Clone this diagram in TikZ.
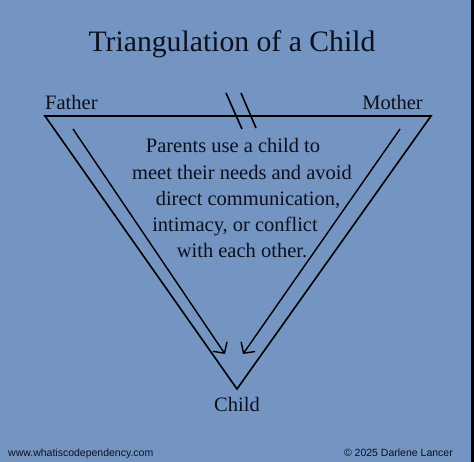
\documentclass[tikz,border=0pt]{standalone}
\usepackage{fontspec}
\setmainfont{Liberation Serif}
\newfontfamily\footfont{Liberation Sans}
\usetikzlibrary{arrows.meta}
\definecolor{bgblue}{RGB}{116,148,194}
\definecolor{inkdark}{RGB}{12,16,30}
\tikzset{
  edge/.style={draw=black, line width=1.6pt},
  flow/.style={draw=black, line width=1.4pt, -{Straight Barb[length=8pt,width=17pt,line width=1.4pt]}},
  lbl/.style={font=\fontsize{20.5}{24}\selectfont, text=inkdark, inner sep=0pt},
  foot/.style={font=\footfont\fontsize{10.5}{12}\selectfont, text=inkdark, inner sep=0pt}
}
\begin{document}
\begin{tikzpicture}[x=1pt,y=-1pt]
\fill[bgblue] (0,0) rectangle (474,462);
\fill[black] (471,0) rectangle (474,462);
\useasboundingbox (0,0) rectangle (474,462);
% title
\node[font=\fontsize{29.7}{34}\selectfont, text=inkdark, inner sep=0pt, anchor=base] (title) at (232,52) {Triangulation of a Child};
% triangle corners
\coordinate (F) at (45,116);
\coordinate (M) at (431,116);
\coordinate (C) at (237,389);
\draw[edge, line join=miter] (F) -- (M) -- (C) -- cycle;
% labels
\node[lbl, anchor=base west] (father) at (45,110) {Father};
\node[lbl, anchor=base east] (mother) at (423,110) {Mother};
\node[lbl, anchor=base] (child) at (237,411) {Child};
% double slash
\coordinate (s1a) at (226,93); \coordinate (s1b) at (242,129);
\coordinate (s2a) at (241,93); \coordinate (s2b) at (256,128);
\draw[edge] (s1a) -- (s1b);
\draw[edge] (s2a) -- (s2b);
% arrows
\coordinate (fa) at (73,129); \coordinate (fb) at (225,354);
\coordinate (ma) at (400,129); \coordinate (mb) at (243,354);
\draw[flow] (fa) -- (fb);
\draw[flow] (ma) -- (mb);
% body text
\node[lbl, anchor=base] (t1) at (233,153) {Parents use a child to};
\node[lbl, anchor=base] (t2) at (242,180) {meet their needs and avoid};
\node[lbl, anchor=base] (t3) at (248,206) {direct communication,};
\node[lbl, anchor=base] (t4) at (235,232) {intimacy, or conflict};
\node[lbl, anchor=base] (t5) at (242,258) {with each other.};
% footer
\node[foot, anchor=base west] (web) at (8,456) {www.whatiscodependency.com};
\node[foot, anchor=base east] (copy) at (453,456) {© 2025 Darlene Lancer};
\end{tikzpicture}
\end{document}
